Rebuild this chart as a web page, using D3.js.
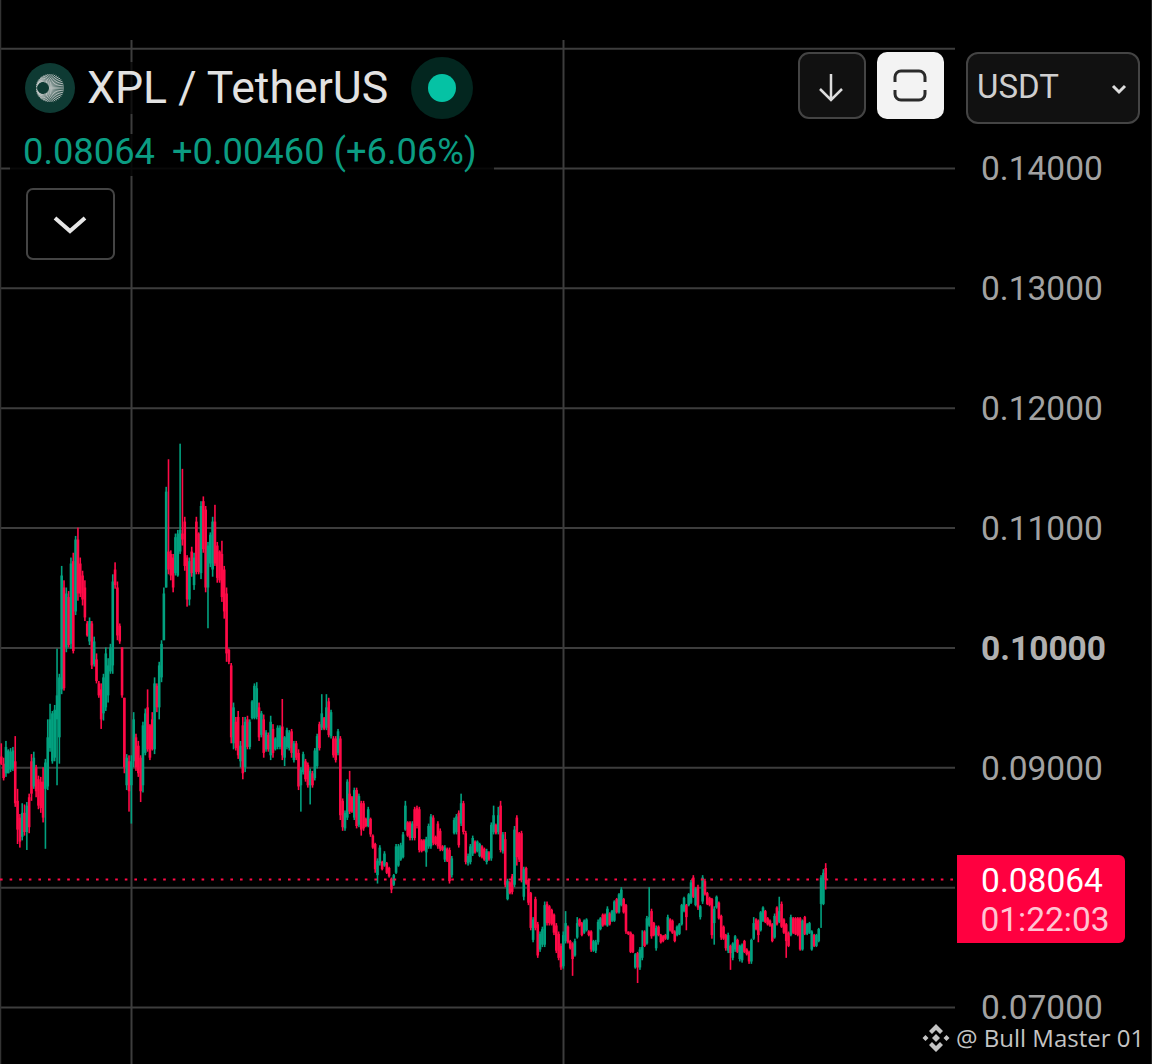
<!DOCTYPE html>
<html>

<head>
    <meta charset="UTF-8">
    <style>
        html, body { margin: 0; padding: 0; background: #000; }
        svg { display: block; font-family: Roboto, sans-serif; }
        .tick line { stroke: #3d3d3d; stroke-width: 2px; }
        .tick text { fill: #a2a2a2; font-size: 33.5px; font-family: Roboto, sans-serif; }
    </style>
</head>

<body>
    <svg></svg>
    <script src="https://d3js.org/d3.v7.min.js"></script>

    <script>
        // candle values, in units of 0.0001 USDT
        const highs = [
            920,908,922,915,916,917,926,882,861,870,869,871,878,911,913,902,893,892,900,907,940,953,947,952,999,978,1068,
            1056,1050,1047,1075,1079,1093,1100,1075,1064,1056,1022,1025,1022,1009,
            995,972,970,978,1000,991,1003,1061,1071,1055,
            1020,1000,958,911,910,910,946,928,922,910,
            938,949,965,936,946,975,970,988,1006,1050,
            1134,1157,1081,1078,1095,1098,1170,1149,1109,1077,
            1075,1084,1079,1109,1096,1122,1126,1118,1088,1096,
            1109,1119,1088,1081,1089,1068,1050,999,987,954,
            942,947,922,
            942,942,943,940,956,970,971,954,947,944,
            931,929,943,936,925,935,935,957,926,933,
            931,932,922,922,915,900,913,907,904,899,
            897,916,928,938,961,942,961,958,948,926,
            926,932,926,874,864,890,897,876,883,883,
            878,872,872,858,867,858,844,837,824,835,
            822,830,821,817,808,811,836,836,837,846,
            872,855,855,855,867,868,867,840,840,842,
            853,861,860,843,855,849,835,835,833,833,
            826,858,861,864,878,872,847,828,836,843,
            839,839,837,835,833,832,830,854,868,853,
            867,872,846,846,807,805,811,851,860,846,
            847,817,817,807,796,775,792,771,763,767,
            788,788,785,782,778,770,763,753,763,780,
            768,756,754,757,775,774,771,773,774,764,
            764,756,756,773,775,778,778,784,779,781,
            789,791,795,800,791,786,763,763,761,745,
            746,750,764,764,776,800,782,771,768,768,
            761,760,761,777,774,773,764,768,770,786,
            792,786,795,806,810,800,802,785,810,807,
            796,792,791,784,793,788,777,768,761,762,
            752,754,760,757,752,753,756,749,747,757,
            775,774,773,780,784,781,775,773,770,778,
            784,792,788,774,770,763,777,775,775,775,
            775,773,776,770,771,764,761,761,766,810,815,820
        ];
        const lows = [
            902,889,892,895,896,897,867,836,833,839,843,831,845,872,882,875,865,862,854,832,881,913,903,905,885,903,961,
            964,996,1000,999,995,1027,1039,1042,1035,1022,1009,1002,982,984,
            970,958,932,939,947,954,978,978,1049,1006,
            1003,958,895,881,863,853,900,897,892,871,
            879,910,913,906,914,911,946,940,971,1006,
            1050,1061,1056,1046,1060,1059,1078,1085,1064,1034,
            1035,1059,1048,1061,1061,1057,1079,1046,1016,1067,
            1059,1068,1054,1054,1038,1024,988,986,920,915,
            914,907,900,
            890,896,915,915,940,940,940,922,925,908,
            913,913,906,908,914,915,915,906,901,915,
            914,908,904,906,881,863,894,888,883,869,
            883,889,899,914,931,931,931,925,924,908,
            904,910,856,847,847,856,861,862,856,849,
            850,843,847,850,850,842,832,812,803,818,
            814,817,811,808,795,801,811,817,822,824,
            847,842,839,839,839,849,829,829,830,817,
            832,832,835,835,832,830,830,821,821,803,
            808,844,844,833,851,844,819,818,819,826,
            828,829,825,824,822,819,822,822,844,844,
            844,829,828,800,789,794,794,800,818,821,
            804,789,802,785,764,754,764,741,746,750,
            750,768,768,768,760,745,739,731,732,753,
            753,748,726,742,757,767,759,761,763,759,
            746,746,745,752,764,767,768,767,768,771,
            771,778,778,784,778,761,760,745,745,732,
            720,731,739,750,752,767,757,759,747,759,
            753,754,756,756,763,761,754,759,760,768,
            779,764,784,786,791,784,781,773,786,793,
            785,784,757,752,782,773,756,756,747,745,
            731,739,746,745,738,737,745,743,736,736,
            756,764,754,763,771,770,768,767,754,757,
            768,770,766,761,741,750,759,761,760,759,
            747,747,760,760,761,747,750,750,754,766,785,798
        ];
        const opens = [
            909,903,895,895,898,899,905,872,858,842,862,846,875,905,884,900,890,888,888,882,884,916,905,908,940,925,965,
            1050,1000,1042,1003,1072,1030,1090,1070,1060,1050,1020,1005,1020,986,
            990,970,965,945,950,960,980,985,1065,1050,
            1018,1000,958,885,905,885,905,925,918,908,
            885,912,950,935,940,915,968,950,975,1006,
            1050,1080,1078,1075,1062,1060,1080,1095,1105,1075,
            1040,1080,1052,1105,1095,1062,1122,1115,1050,1070,
            1065,1105,1085,1080,1078,1065,1045,998,985,920,
            938,942,905,
            935,900,940,917,941,941,942,950,927,940,
            915,927,910,932,915,917,917,934,908,917,
            916,930,906,920,912,885,896,905,902,885,
            895,891,901,936,933,941,933,955,926,924,
            924,912,924,872,849,858,878,875,858,881,
            852,870,870,857,851,857,843,836,810,820,
            821,818,820,816,807,802,812,818,823,825,
            848,854,854,841,865,866,865,839,839,829,
            834,834,858,842,853,847,834,823,832,831,
            810,845,846,862,853,870,845,820,821,828,
            838,830,826,834,832,821,829,824,846,852,
            846,868,830,840,790,804,809,802,858,845,
            845,792,816,806,795,756,790,769,748,752,
            752,786,784,781,777,768,761,751,734,755,
            767,755,753,743,758,773,770,762,764,763,
            763,747,747,754,765,777,777,768,778,772,
            772,790,779,785,790,785,763,762,760,733,
            745,733,741,763,753,768,780,770,749,767,
            760,759,760,757,773,772,763,760,761,769,
            780,785,785,787,808,785,800,775,788,805,
            795,791,790,770,783,787,776,767,760,747,
            751,741,748,756,740,739,755,748,746,738,
            757,773,772,764,772,780,774,772,769,758,
            783,771,786,773,769,762,760,774,774,774,
            774,748,775,761,762,748,760,751,755,786,786,816
        ];
        const closes = [
            903,891,917,914,913,914,870,848,838,862,846,868,850,878,908,880,868,866,858,904,925,940,945,948,960,975,1060,
            966,1045,1002,1070,997,1090,1045,1045,1040,1025,1010,1022,985,1005,
            972,960,940,975,995,985,1000,1055,1052,1010,
            1005,960,900,908,880,905,940,900,895,880,
            935,945,915,908,915,970,950,985,1003,1045,
            1130,1065,1060,1050,1092,1095,1098,1090,1068,1040,
            1072,1062,1075,1063,1063,1118,1082,1050,1085,1094,
            1105,1070,1058,1056,1042,1030,995,988,925,950,
            916,910,918,
            895,938,917,938,955,968,966,925,945,912,
            929,915,938,912,924,933,933,910,925,931,
            929,912,920,908,884,898,911,890,885,897,
            885,914,926,916,945,932,950,927,946,910,
            906,930,860,850,862,888,863,863,881,851,
            876,848,849,851,865,844,833,815,822,833,
            815,828,812,809,798,810,834,834,835,844,
            868,843,841,853,841,851,831,830,831,840,
            851,859,837,836,834,832,831,833,822,805,
            824,856,859,835,870,846,821,826,834,841,
            829,838,836,825,823,830,823,852,860,845,
            860,831,844,802,805,795,796,848,825,823,
            806,815,803,787,766,773,766,743,761,765,
            785,770,770,769,762,747,741,733,760,770,
            754,749,740,755,770,768,760,772,773,760,
            748,755,754,771,774,768,769,782,769,780,
            788,779,794,798,779,763,761,746,746,744,
            733,748,750,751,774,775,759,760,766,760,
            754,755,757,775,764,762,755,767,769,785,
            791,775,794,804,792,799,783,784,808,794,
            786,785,760,782,792,774,758,757,749,760,
            745,753,759,746,751,752,746,744,738,756,
            770,765,760,779,783,771,769,768,755,776,
            769,780,767,762,755,751,775,762,761,760,
            748,772,761,769,770,763,751,760,765,808,812,806
        ];

        const priceTicks = [0.15, 0.14, 0.13, 0.12, 0.11, 0.10, 0.09, 0.08, 0.07];
        const hiddenLabels = [0.15, 0.08];   // covered by the dropdown and the price box
        const lastPrice = 0.08064;
        const countdown = "01:22:03";
        const crossTimes = [56, 242];   // candle index of the two vertical day lines

        const upColor = "#02a17f", downColor = "#ff0a47";
        const width = 1152, height = 1064;

        let svg = d3.select("svg")
            .attr("width", width)
            .attr("height", height)
            .attr("viewBox", "0 0 " + width + " " + height);

        let y = d3.scaleLinear().domain([0.07, 0.14]).range([1007, 168]);
        let x = d3.scaleLinear().domain([0, highs.length - 1]).range([1.3, 825.7]);

        // grid and price labels
        let axis = d3.axisRight(y)
            .tickValues(priceTicks)
            .tickSize(955)
            .tickPadding(26)
            .tickFormat(d => hiddenLabels.includes(d) ? "" : d.toFixed(5));
        let axisG = svg.append("g").call(axis);
        axisG.select(".domain").remove();
        axisG.selectAll(".tick text")
            .attr("dy", "0.35em")
            .filter(d => d == 0.10)
            .style("font-weight", "bold")
            .style("fill", "#b0b0b0");

        // vertical lines and the outer edge
        svg.selectAll("line.cross")
            .data(crossTimes)
            .enter()
            .append("line")
            .attr("class", "cross")
            .attr("x1", d => Math.round(x(d)) + 0.5)
            .attr("x2", d => Math.round(x(d)) + 0.5)
            .attr("y1", 40)
            .attr("y2", height)
            .attr("stroke", "#3d3d3d")
            .attr("stroke-width", 2);
        svg.append("line").attr("x1", 0.5).attr("x2", 0.5).attr("y1", 0).attr("y2", height).attr("stroke", "#333").attr("stroke-width", 1.5);
        svg.append("line").attr("x1", 1151.5).attr("x2", 1151.5).attr("y1", 0).attr("y2", height).attr("stroke", "#222").attr("stroke-width", 1);

        // candles
        let candleData = highs.map((h, i) => ({ i: i, h: h / 1e4, l: lows[i] / 1e4, o: opens[i] / 1e4, c: closes[i] / 1e4 }));
        let candles = svg.append("g").selectAll("g")
            .data(candleData)
            .enter()
            .append("g")
            .attr("fill", d => d.c >= d.o ? upColor : downColor);
        candles.append("rect")
            .attr("x", d => x(d.i) - 0.8)
            .attr("width", 1.6)
            .attr("y", d => y(d.h))
            .attr("height", d => y(d.l) - y(d.h));
        candles.append("rect")
            .attr("x", d => x(d.i) - 1.3)
            .attr("width", 2.6)
            .attr("y", d => y(Math.max(d.o, d.c)))
            .attr("height", d => Math.max(1, Math.abs(y(d.o) - y(d.c))));

        // last price line and box
        svg.append("line")
            .attr("x1", 0).attr("x2", 955)
            .attr("y1", y(lastPrice)).attr("y2", y(lastPrice))
            .attr("stroke", downColor)
            .attr("stroke-width", 2)
            .attr("stroke-dasharray", "2.6 7");
        svg.append("path")
            .attr("d", "M957,855H1119a6,6 0 0 1 6,6V937a6,6 0 0 1 -6,6H957Z")
            .attr("fill", "#ff0040");
        svg.append("text").attr("x", 1042).attr("y", 892).attr("text-anchor", "middle")
            .attr("fill", "#fff").style("font-size", "33.5px").text(lastPrice.toFixed(5));
        svg.append("text").attr("x", 1045).attr("y", 931).attr("text-anchor", "middle")
            .attr("fill", "#ffc4d2").style("font-size", "33.5px").text(countdown);

        // legend: the dark backdrop dims the grid behind the text
        svg.append("rect").attr("x", 10).attr("y", 134).attr("width", 484).attr("height", 42).attr("fill", "#000").attr("opacity", 0.85);
        svg.append("rect").attr("x", 80).attr("y", 62).attr("width", 320).attr("height", 52).attr("fill", "#000").attr("opacity", 0.7);

        svg.append("circle").attr("cx", 50).attr("cy", 88).attr("r", 25).attr("fill", "#0e3a33");
        let spokes = svg.append("g").attr("stroke", "#dcdcdc").attr("stroke-width", 0.8);
        d3.range(-180, 180, 8).forEach(a => {
            let r = a * Math.PI / 180;
            spokes.append("line")
                .attr("x1", 43 + 6 * Math.cos(r)).attr("y1", 88 + 6 * Math.sin(r))
                .attr("x2", 50 + 14 * Math.cos(r)).attr("y2", 88 + 14 * Math.sin(r));
        });

        svg.append("text").attr("x", 87).attr("y", 103)
            .attr("fill", "#e2e2e2").style("font-size", "44.6px").text("XPL / TetherUS");

        svg.append("circle").attr("cx", 442).attr("cy", 88).attr("r", 31).attr("fill", "#03261f");
        svg.append("circle").attr("cx", 442).attr("cy", 88).attr("r", 14).attr("fill", "#05c2a4");

        svg.append("text").attr("x", 23).attr("y", 164)
            .attr("fill", "#0b9c82").style("font-size", "36.3px").text(lastPrice.toFixed(5));
        svg.append("text").attr("x", 172).attr("y", 164)
            .attr("fill", "#0b9c82").style("font-size", "36.3px").text("+0.00460 (+6.06%)");

        // collapse button
        svg.append("rect").attr("x", 27).attr("y", 189).attr("width", 87).attr("height", 70).attr("rx", 6)
            .attr("fill", "#000").attr("stroke", "#444").attr("stroke-width", 2);
        svg.append("path").attr("d", "M55,218L70,231L85,218")
            .attr("fill", "none").attr("stroke", "#e6e6e6").attr("stroke-width", 4);

        // top right buttons
        svg.append("rect").attr("x", 799).attr("y", 53).attr("width", 66).attr("height", 65).attr("rx", 10)
            .attr("fill", "#111").attr("stroke", "#444").attr("stroke-width", 2);
        svg.append("path").attr("d", "M831,74V100M820,89L831,100L842,89")
            .attr("fill", "none").attr("stroke", "#ddd").attr("stroke-width", 2.5);

        svg.append("rect").attr("x", 877).attr("y", 52).attr("width", 67).attr("height", 67).attr("rx", 10).attr("fill", "#f3f3f3");
        svg.append("path").attr("d", "M895,82V77a6,6 0 0 1 6,-6H919a6,6 0 0 1 6,6V82M895,90V94a6,6 0 0 0 6,6H919a6,6 0 0 0 6,-6V90")
            .attr("fill", "none").attr("stroke", "#2a2a2a").attr("stroke-width", 3);

        svg.append("rect").attr("x", 967).attr("y", 53).attr("width", 172).attr("height", 70).attr("rx", 11)
            .attr("fill", "#111").attr("stroke", "#444").attr("stroke-width", 2);
        svg.append("text").attr("x", 977).attr("y", 98)
            .attr("fill", "#cfcfcf").style("font-size", "33px").text("USDT");
        svg.append("path").attr("d", "M1113,86L1119,92L1125,86")
            .attr("fill", "none").attr("stroke", "#ddd").attr("stroke-width", 3);

        // watermark
        let logo = svg.append("g").attr("fill", "#c4c4c4").attr("transform", "translate(936,1038)");
        logo.append("path")
            .attr("d", "M0,-4L4,0L0,4L-4,0Z" +
                "M-10.5,-3L-7.5,0L-10.5,3L-13.5,0Z" +
                "M10.5,-3L13.5,0L10.5,3L7.5,0Z" +
                "M0,-14L7,-7L4,-4L0,-8L-4,-4L-7,-7Z" +
                "M0,14L7,7L4,4L0,8L-4,4L-7,7Z");
        svg.append("text").attr("x", 956).attr("y", 1047)
            .attr("fill", "#c4c4c4")
            .style("font-family", "'Open Sans', sans-serif")
            .style("font-size", "24px")
            .text("@ Bull Master 01");
    </script>

</body>

</html>
